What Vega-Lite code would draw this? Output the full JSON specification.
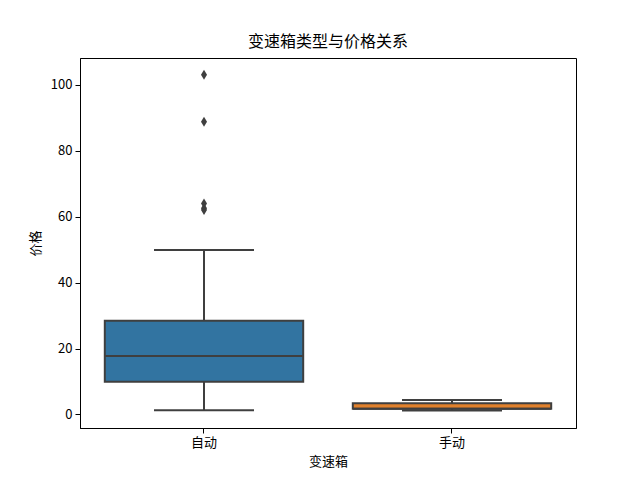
{
  "$schema": "https://vega.github.io/schema/vega-lite/v6.json",
  "autosize": {"type": "none"},
  "padding": {"left": 80, "top": 58, "right": 64, "bottom": 53},
  "width": 496,
  "height": 370,
  "background": "white",
  "config": {
    "font": "Noto Sans CJK SC",
    "view": {"stroke": "black", "strokeWidth": 1},
    "axis": {
      "domainColor": "black",
      "tickColor": "black",
      "labelColor": "black",
      "titleColor": "black",
      "labelFontSize": 13,
      "titleFontSize": 13,
      "titleFontWeight": "normal",
      "tickSize": 5,
      "labelPadding": 3,
      "grid": false
    }
  },
  "title": {
    "text": "变速箱类型与价格关系",
    "fontSize": 16,
    "fontWeight": "normal",
    "color": "black",
    "offset": 8
  },
  "datasets": {
    "boxes": [
      {"变速箱": "自动", "low": 1.3, "q1": 9.9, "median": 17.7, "q3": 28.4, "high": 49.9},
      {"变速箱": "手动", "low": 1.2, "q1": 1.7, "median": 1.7, "q3": 3.4, "high": 4.4}
    ],
    "outliers": [
      {"变速箱": "自动", "价格": 103.0},
      {"变速箱": "自动", "价格": 88.8},
      {"变速箱": "自动", "价格": 64.0},
      {"变速箱": "自动", "价格": 62.5},
      {"变速箱": "自动", "价格": 62.0}
    ]
  },
  "encoding": {
    "x": {
      "field": "变速箱",
      "type": "nominal",
      "sort": ["自动", "手动"],
      "scale": {"paddingInner": 0.2, "paddingOuter": 0.1},
      "axis": {"labelAngle": 0, "title": "变速箱", "titlePadding": 6}
    }
  },
  "layer": [
    {
      "data": {"name": "boxes"},
      "mark": {"type": "rule", "color": "#3f3f3f", "strokeWidth": 2},
      "encoding": {
        "y": {
          "field": "low",
          "type": "quantitative",
          "scale": {"domain": [-4.1, 108.1], "nice": false, "zero": false},
          "axis": {"values": [0, 20, 40, 60, 80, 100], "title": "价格", "titlePadding": 8}
        },
        "y2": {"field": "high"}
      }
    },
    {
      "data": {"name": "boxes"},
      "mark": {"type": "bar", "stroke": "#3f3f3f", "strokeWidth": 2},
      "encoding": {
        "y": {"field": "q1", "type": "quantitative"},
        "y2": {"field": "q3"},
        "fill": {
          "field": "变速箱",
          "type": "nominal",
          "scale": {"domain": ["自动", "手动"], "range": ["#3274a1", "#e1812c"]},
          "legend": null
        }
      }
    },
    {
      "data": {"name": "boxes"},
      "mark": {"type": "tick", "color": "#3f3f3f", "size": 198, "thickness": 2, "opacity": 1},
      "encoding": {"y": {"field": "median", "type": "quantitative"}}
    },
    {
      "data": {"name": "boxes"},
      "mark": {"type": "tick", "color": "#3f3f3f", "size": 100, "thickness": 2, "opacity": 1},
      "encoding": {"y": {"field": "low", "type": "quantitative"}}
    },
    {
      "data": {"name": "boxes"},
      "mark": {"type": "tick", "color": "#3f3f3f", "size": 100, "thickness": 2, "opacity": 1},
      "encoding": {"y": {"field": "high", "type": "quantitative"}}
    },
    {
      "data": {"name": "outliers"},
      "mark": {
        "type": "point",
        "shape": "M0,-1L0.6,0L0,1L-0.6,0Z",
        "filled": true,
        "size": 100,
        "color": "#3f3f3f",
        "opacity": 1
      },
      "encoding": {"y": {"field": "价格", "type": "quantitative"}}
    }
  ]
}
